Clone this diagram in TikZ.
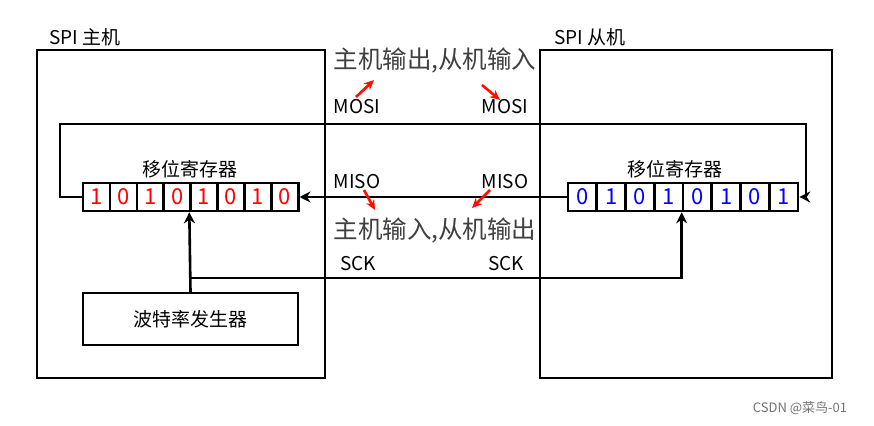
\documentclass[tikz,border=0pt]{standalone}
\usepackage{fontspec}
\setmainfont{Noto Sans CJK SC}
\usetikzlibrary{arrows.meta}
\begin{document}
\begin{tikzpicture}[x=1pt,y=-1pt,
  arr/.style={line width=2.6pt,-{Stealth[length=11pt,width=11pt]}},
  lbl/.style={font=\fontsize{19}{21}\selectfont},
  big/.style={font=\fontsize{24.5}{26}\selectfont,text=black!75},
  red/.style={draw=red!90!orange,line width=2.6pt,-{Stealth[length=10pt,width=9pt]}},
  cell/.style={draw,line width=2.6pt,minimum width=26.9pt,minimum height=28pt,inner sep=0pt,font=\fontsize{22}{24}\selectfont}]
\useasboundingbox[fill=white] (0,0) rectangle (874,425);
\node[draw,line width=2.4pt,minimum width=288pt,minimum height=328pt,inner sep=0pt] (M) at (181,214) {};
\node[draw,line width=2.4pt,minimum width=292pt,minimum height=328pt,inner sep=0pt] (S) at (686,214) {};
\node[lbl] (Mt) at (85,37) {SPI 主机};
\node[lbl] (St) at (590,37) {SPI 从机};
\foreach \b [count=\i] in {1,0,1,0,1,0,1,0}{
  \node[cell,text=red] (L\i) at ({83+26.9*(\i-0.5)},197) {\b};}
\begin{scope}[cell/.append style={minimum width=28.75pt}]
\foreach \b [count=\i] in {0,1,0,1,0,1,0,1}{
  \node[cell,text=blue] (R\i) at ({568+28.75*(\i-0.5)},197) {\b};}
\end{scope}
\node[lbl] (Lr) at (190,169) {移位寄存器};
\node[lbl] (Rr) at (675,169) {移位寄存器};
\node[draw,line width=2.4pt,minimum width=215pt,minimum height=52pt,lbl] (B) at (190.5,319) {波特率发生器};
\coordinate (c1) at (60,124); \coordinate (c2) at (806,124);
\draw[arr] (L1.west) -| (c1) -- (c2) |- (R8.east);
\draw[arr] (R1.west) -- (L8.east);
\coordinate (k) at (190,278);
\draw[arr] (B.north) -- (L5.south west);
\draw[arr] (k) -| (R5.south west);
\node[lbl] (m1) at (357,107) {MOSI};
\node[lbl] (m2) at (505,107) {MOSI};
\node[lbl] (i1) at (357,182) {MISO};
\node[lbl] (i2) at (505,182) {MISO};
\node[lbl] (s1) at (358,264) {SCK};
\node[lbl] (s2) at (506,264) {SCK};
\node[big] (T1) at (435,61) {主机输出,从机输入};
\node[big] (T2) at (435,230) {主机输入,从机输出};
\draw[red] (356,97) -- (374,80);
\draw[red] (482,85) -- (500,100);
\draw[red] (364,190) -- (375,210);
\draw[red] (490,190) -- (472,208);
\node[font=\fontsize{13}{15}\selectfont,text=black!55] (w) at (800,408) {CSDN @菜鸟-01};
\end{tikzpicture}
\end{document}
